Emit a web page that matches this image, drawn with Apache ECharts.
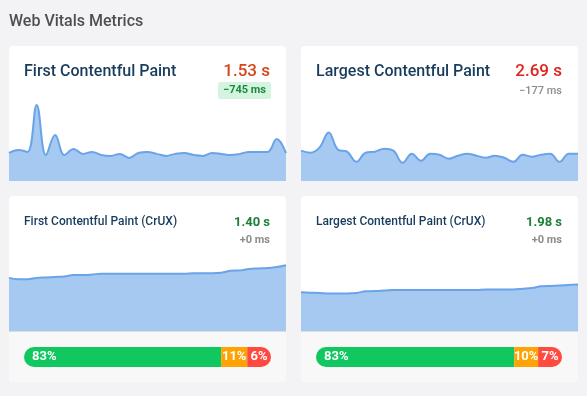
<!DOCTYPE html>
<html>
<head>
<meta charset="utf-8">
<script src="https://cdn.jsdelivr.net/npm/echarts@6/dist/echarts.min.js"></script>
<style>
  html, body { margin: 0; padding: 0; background: #f3f2f5; }
  #chart { width: 587px; height: 396px; }
</style>
</head>
<body>
<div id="chart"></div>
<script>
// one point per day
const days = Array.from({ length: 31 }, (_, i) => 'D' + (i + 1))

// lab values (ms)
const fcpLab = [1540, 1700, 1600, 4180, 1430, 2530, 1430, 1760, 1490, 1600, 1430, 1380, 1490, 1270, 1540, 1600,
  1490, 1380, 1490, 1540, 1430, 1380, 1540, 1490, 1430, 1490, 1600, 1600, 1600, 2310, 1530]
const lcpLab = [3000, 2800, 3300, 4800, 3100, 2900, 1900, 2800, 2900, 3200, 3000, 1800, 2700, 2000, 2700, 2600,
  2200, 2500, 2700, 2500, 2300, 2500, 2300, 1900, 2600, 2400, 2600, 2700, 1900, 2700, 2690]

// CrUX p75 values (ms)
const fcpCrux = [1130, 1100, 1100, 1130, 1140, 1150, 1160, 1190, 1190, 1200, 1220, 1220, 1220, 1220, 1220, 1220,
  1220, 1220, 1220, 1220, 1230, 1230, 1230, 1240, 1280, 1290, 1320, 1330, 1340, 1360, 1400]
const lcpCrux = [1650, 1630, 1620, 1600, 1600, 1600, 1620, 1690, 1700, 1720, 1740, 1740, 1750, 1750, 1750, 1750,
  1750, 1750, 1750, 1750, 1770, 1770, 1770, 1770, 1800, 1830, 1900, 1920, 1940, 1960, 1980]

// good / needs improvement / poor shares (%)
const fcpDist = [83, 11, 6]
const lcpDist = [83, 10, 7]
const distColors = ['#10c760', '#ffa203', '#ff4a3f']
const minShare = 10 // small segments still get room for their label

const FONT = 'Roboto'
const LINE = '#6aa3e8'
const FILL = '#a5c9f1'

const chart = echarts.init(document.getElementById('chart'))

function sparkSeries(data, idx) {
  return {
    type: 'line',
    xAxisIndex: idx,
    yAxisIndex: idx,
    data: data,
    smooth: 0.4,
    showSymbol: true,
    symbol: 'circle',
    symbolSize: (v, p) => (p.dataIndex === data.length - 1 ? 6 : 0),
    itemStyle: { color: LINE },
    lineStyle: { color: LINE, width: 2 },
    areaStyle: { color: FILL, opacity: 1 },
    silent: true
  }
}

function distSeries(dist, idx) {
  return dist.map((v, i) => ({
    type: 'bar',
    stack: 'dist' + idx,
    xAxisIndex: idx,
    yAxisIndex: idx,
    barWidth: 20,
    data: [Math.max(v, minShare)],
    itemStyle: {
      color: distColors[i],
      borderRadius: i === 0 ? [10, 0, 0, 10] : (i === dist.length - 1 ? [0, 10, 10, 0] : 0)
    },
    label: {
      show: true,
      position: i === 0 ? 'insideLeft' : 'inside',
      distance: 8,
      formatter: v + '%',
      color: '#fff',
      fontFamily: FONT,
      fontWeight: 'bold',
      fontSize: 13
    },
    silent: true
  }))
}

const sum = arr => arr.reduce((a, v) => a + Math.max(v, minShare), 0)

function txt(text, pos, style) {
  return Object.assign({ text: text, padding: 0, textStyle: Object.assign({ fontFamily: FONT }, style) }, pos)
}

const cards = [[9, 46, 277, 135], [301, 46, 277, 135], [9, 196, 277, 186], [301, 196, 277, 186]]

const graphic = []
cards.forEach((c, i) => {
  graphic.push({ type: 'rect', z: 0, shape: { x: c[0], y: c[1], width: c[2], height: c[3], r: 4 }, style: { fill: '#fff' } })
  if (i > 1) {
    graphic.push({ type: 'rect', z: 0, shape: { x: c[0], y: 331, width: c[2], height: c[1] + c[3] - 331, r: [0, 0, 4, 4] }, style: { fill: '#f8f8f9' } })
    graphic.push({ type: 'line', z: 3, shape: { x1: c[0], y1: 331.5, x2: c[0] + c[2], y2: 331.5 }, style: { stroke: '#dcdcdf', lineWidth: 1 } })
  }
})

chart.setOption({
  backgroundColor: '#f3f2f5',
  animation: false,
  graphic: graphic,
  title: [
    txt('Web Vitals Metrics', { left: 9, top: 14 }, { fontSize: 16, fontWeight: 500, color: '#4f4f52' }),
    txt('First Contentful Paint', { left: 24, top: 64 }, { fontSize: 16, fontWeight: 500, color: '#173c5c' }),
    txt('1.53 s', { right: 317, top: 63 }, { fontSize: 17, fontWeight: 500, color: '#d5451b' }),
    {
      text: '−745 ms', right: 316, top: 82, padding: [3, 5], backgroundColor: '#d5f4e0', borderRadius: 2,
      textStyle: { fontFamily: FONT, fontSize: 11, fontWeight: 'bold', color: '#1b8a3c' }
    },
    txt('Largest Contentful Paint', { left: 316, top: 64 }, { fontSize: 16, fontWeight: 500, color: '#173c5c' }),
    txt('2.69 s', { right: 25, top: 63 }, { fontSize: 17, fontWeight: 500, color: '#e0221c' }),
    txt('−177 ms', { right: 25, top: 86 }, { fontSize: 11, fontWeight: 500, color: '#8c8c8c' }),
    txt('First Contentful Paint (CrUX)', { left: 24, top: 216 }, { fontSize: 12, fontWeight: 500, color: '#173c5c' }),
    txt('1.40 s', { right: 317, top: 216 }, { fontSize: 13, fontWeight: 'bold', color: '#1b7f3a' }),
    txt('+0 ms', { right: 317, top: 235 }, { fontSize: 11, color: '#8c8c8c' }),
    txt('Largest Contentful Paint (CrUX)', { left: 316, top: 216 }, { fontSize: 12, fontWeight: 500, color: '#173c5c' }),
    txt('1.98 s', { right: 25, top: 216 }, { fontSize: 13, fontWeight: 'bold', color: '#1b7f3a' }),
    txt('+0 ms', { right: 25, top: 235 }, { fontSize: 11, color: '#8c8c8c' })
  ],
  grid: [
    { left: 9, width: 277, top: 90, height: 91 },
    { left: 301, width: 277, top: 90, height: 91 },
    { left: 9, width: 277, top: 237, height: 94 },
    { left: 301, width: 277, top: 237, height: 94 },
    { left: 24, width: 247, top: 347, height: 20 },
    { left: 316, width: 246, top: 347, height: 20 }
  ],
  xAxis: [
    { gridIndex: 0, type: 'category', data: days, boundaryGap: false, show: false },
    { gridIndex: 1, type: 'category', data: days, boundaryGap: false, show: false },
    { gridIndex: 2, type: 'category', data: days, boundaryGap: false, show: false },
    { gridIndex: 3, type: 'category', data: days, boundaryGap: false, show: false },
    { gridIndex: 4, type: 'value', min: 0, max: sum(fcpDist), show: false },
    { gridIndex: 5, type: 'value', min: 0, max: sum(lcpDist), show: false }
  ],
  yAxis: [
    { gridIndex: 0, type: 'value', min: 0, max: 5000, show: false },
    { gridIndex: 1, type: 'value', min: 0, max: 9000, show: false },
    { gridIndex: 2, type: 'value', min: 0, max: 2000, show: false },
    { gridIndex: 3, type: 'value', min: 0, max: 4000, show: false },
    { gridIndex: 4, type: 'category', data: ['FCP'], show: false },
    { gridIndex: 5, type: 'category', data: ['LCP'], show: false }
  ],
  series: [
    sparkSeries(fcpLab, 0),
    sparkSeries(lcpLab, 1),
    sparkSeries(fcpCrux, 2),
    sparkSeries(lcpCrux, 3),
    ...distSeries(fcpDist, 4),
    ...distSeries(lcpDist, 5)
  ]
})
</script>
</body>
</html>
